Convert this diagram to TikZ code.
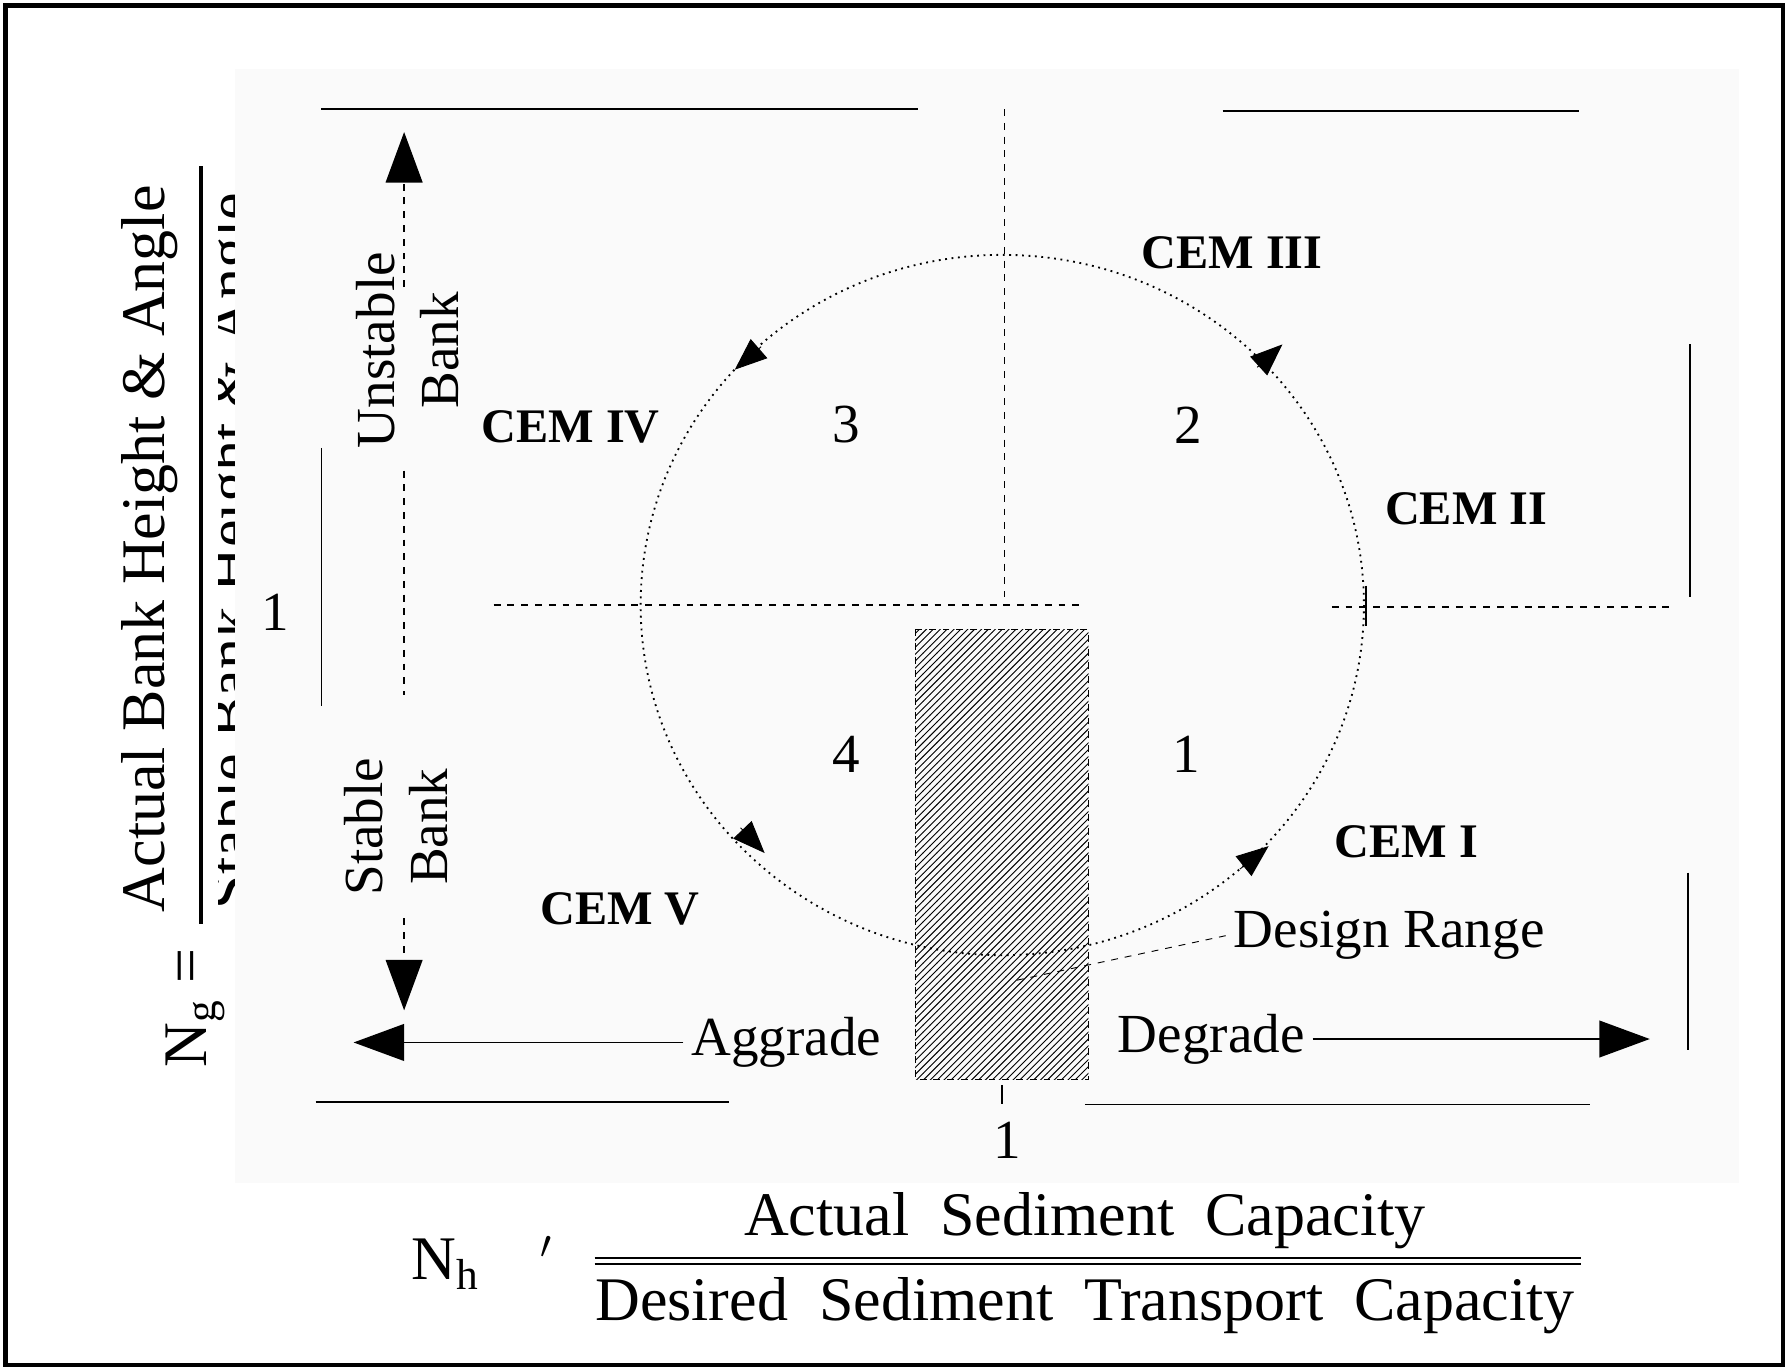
\documentclass[tikz,border=0pt]{standalone}
\usepackage{fontspec}
\setmainfont{Liberation Serif}
\usetikzlibrary{arrows.meta,patterns}
\begin{document}
\begin{tikzpicture}[x=0.5pt,y=-0.5pt,
  lbl/.style={font=\fontsize{24}{28}\selectfont},
  cem/.style={font=\fontsize{21}{24}\selectfont\bfseries},
  big/.style={font=\fontsize{27}{30}\selectfont},
  tip/.style={-{Triangle[length=22pt,width=16pt]}},
  ctip/.style={-{Triangle[length=14pt,width=11pt]}}]
\useasboundingbox (0,0) rectangle (1560,1193);
\draw[line width=2pt] (5,5) rectangle (1553,1189);
\begin{scope}
\clip (190,150) rectangle (212,800);
\node[big,rotate=90] (sb) at (205,480) {Stable Bank Height \& Angle};
\end{scope}
\fill[black!2] (205,60) rectangle (1515,1030);
% circle
\draw[dotted,thick] (873,527) ellipse [x radius=315,y radius=305];
\coordinate (c1) at (1105,737);
\coordinate (c2) at (1117,300);
\coordinate (c3) at (640,322);
\coordinate (c4) at (666,743);
\draw[ctip] (1080,757) -- (c1);
\draw[ctip] (1095,320) -- (c2);
\draw[ctip] (663,302) -- (c3);
\draw[ctip] (645,721) -- (c4);
% dashed axes
\draw[dashed,thick] (430,527) -- (945,527);
\draw[dashed,thick] (1160,529) -- (1455,529);
\draw[dashed,thick] (875,95) -- (875,520);
\draw[thick] (1190,510) -- (1190,545);
% frame lines
\draw[thick] (280,95) -- (800,95);
\draw[thick] (1065,97) -- (1375,97);
\draw[thick] (275,960) -- (635,960);
\draw[thick] (945,962) -- (1385,962);
\draw[thick] (1472,300) -- (1472,520);
\draw[thick] (1470,760) -- (1470,915);
\draw[thick] (280,390) -- (280,615);
\draw[thick] (873,945) -- (873,962);
% hatched
\fill[pattern=north east lines] (797,548) rectangle (948,940);
\draw[dashed] (797,548) rectangle (948,940);
% arrows
\coordinate (up) at (352,115);
\coordinate (dn) at (352,880);
\coordinate (lt) at (308,908);
\coordinate (rt) at (1437,905);
\draw[dashed,thick,tip] (352,250) -- (up);
\draw[dashed,thick] (352,410) -- (352,605);
\draw[dashed,thick,tip] (352,800) -- (dn);
\node[lbl] (agg) at (685,908) {Aggrade};
\node[lbl] (deg) at (1055,905) {Degrade};
\draw[thick,tip] (agg.west) -- (lt);
\draw[thick,tip] (deg.east) -- (rt);
\node[lbl] (dr) at (1210,815) {Design Range};
\coordinate (dp) at (880,855);
\draw[dashed] (dr.west) -- (dp);
% labels
\node[lbl,rotate=90,align=center] (ub) at (355,305) {Unstable\\Bank};
\node[lbl,rotate=90,align=center] (stb) at (345,720) {Stable\\Bank};
\node[cem] (C3) at (1073,220) {CEM III};
\node[cem] (C2) at (1277,443) {CEM II};
\node[cem] (C4) at (497,372) {CEM IV};
\node[cem] (C5) at (540,792) {CEM V};
\node[cem] (C1) at (1225,733) {CEM I};
\node[lbl] (n3) at (737,370) {3};
\node[lbl] (n2) at (1035,370) {2};
\node[lbl] (n4) at (737,657) {4};
\node[lbl] (n1) at (1033,657) {1};
\node[lbl] (y1) at (240,533) {1};
\node[lbl] (x1) at (877,993) {1};
% left label
\node[big,rotate=90] (ab) at (130,478) {Actual Bank Height \& Angle};
\draw[line width=2pt] (175,145) -- (175,805);
\node[big,rotate=90] (ng) at (170,878) {N$_{\mathrm g}$ =};
% bottom fraction
\node[big] (nh) at (420,1100) {N$_{\mathrm h}$\quad$'$};
\node[big] (num) at (945,1063) {Actual\ \ Sediment\ \ Capacity};
\draw[thick] (518,1096) -- (1377,1096);
\draw[thick] (518,1101) -- (1377,1101);
\node[big] (den) at (945,1137) {Desired\ \ Sediment\ \ Transport\ \ Capacity};
\end{tikzpicture}
\end{document}
